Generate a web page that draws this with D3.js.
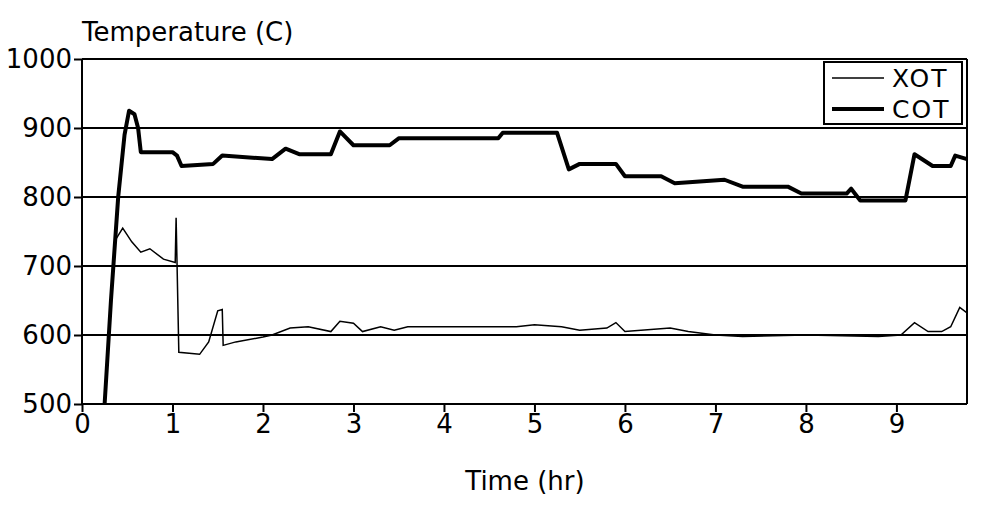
<!DOCTYPE html>
<html><head><meta charset="utf-8">
<script src="https://cdn.jsdelivr.net/npm/d3@7"></script>
<style>body{margin:0;background:#fff}text{font-family:"DejaVu Sans",sans-serif;fill:#000}</style>
</head><body><div id="chart"></div>
<script>
// COT (thick) readings: hours, temperature
var cotHr = [0.25,0.32,0.4,0.47,0.52,0.58,0.62,0.65,1.0,1.05,1.1,1.45,1.55,2.1,2.25,2.4,2.75,2.85,3.0,3.4,3.5,4.6,4.65,5.25,5.38,5.5,5.9,6.0,6.4,6.55,7.1,7.3,7.8,7.95,8.45,8.5,8.6,9.1,9.2,9.4,9.6,9.65,9.78];
var cotT  = [500,650,800,890,925,920,900,865,865,860,845,848,860,855,870,862,862,895,875,875,885,885,893,893,840,848,848,830,830,820,825,815,815,805,805,812,795,795,862,845,845,860,855];
// XOT (thin) readings
var xotHr = [0.38,0.45,0.55,0.65,0.75,0.9,1.03,1.04,1.07,1.3,1.4,1.5,1.55,1.56,1.7,2.0,2.1,2.3,2.5,2.75,2.85,3.0,3.1,3.3,3.45,3.6,4.8,5.0,5.3,5.5,5.8,5.9,6.0,6.5,6.7,7.0,7.3,8.0,8.8,9.05,9.2,9.35,9.5,9.6,9.7,9.78,9.78];
var xotT  = [740,755,735,720,725,710,705,770,575,572,590,635,637,585,590,597,600,610,612,605,620,617,605,612,607,612,612,615,612,607,610,618,605,610,605,600,598,600,598,600,618,605,605,612,640,632,500];
var yTicks = [500,600,700,800,900,1000];
var xTicks = [0,1,2,3,4,5,6,7,8,9];

var W = 989, H = 516, L = 82, R = 967, T = 59, B = 404;
var svg = d3.select("#chart").append("svg").attr("width", W).attr("height", H);
var x = d3.scaleLinear().domain([0, 9.78]).range([L, R]);
var y = d3.scaleLinear().domain([500, 1000]).range([B, T]);

// gridlines
svg.selectAll("line.grid").data(yTicks).enter().append("line")
  .attr("x1", L).attr("x2", R).attr("y1", d => y(d)).attr("y2", d => y(d))
  .attr("stroke", "#000").attr("stroke-width", 2);
svg.append("line").attr("x1", R).attr("x2", R).attr("y1", T).attr("y2", B).attr("stroke", "#000").attr("stroke-width", 2);

var xa = svg.append("g").attr("transform", "translate(0," + B + ")")
  .call(d3.axisBottom(x).tickValues(xTicks).tickSize(8).tickPadding(3));
var ya = svg.append("g").attr("transform", "translate(" + L + ",0)")
  .call(d3.axisLeft(y).tickValues(yTicks).tickFormat(d3.format("d")).tickSize(8).tickPadding(2));
[xa, ya].forEach(function(a) {
  a.selectAll("path,line").attr("stroke", "#000").attr("stroke-width", 2);
  a.select(".domain").attr("d", a === xa ? "M" + L + ",0H" + R : "M0," + T + "V" + B);
  a.selectAll("text").attr("font-size", 26).attr("font-family", "DejaVu Sans");
});

var line = d3.line().x(d => x(d[0])).y(d => y(d[1]));
svg.append("path").datum(d3.zip(xotHr, xotT)).attr("d", line)
  .attr("fill", "none").attr("stroke", "#000").attr("stroke-width", 1.5);
svg.append("path").datum(d3.zip(cotHr, cotT)).attr("d", line)
  .attr("fill", "none").attr("stroke", "#000").attr("stroke-width", 4).attr("stroke-linejoin", "round");

svg.append("text").attr("x", 82).attr("y", 41).attr("font-size", 26).text("Temperature (C)");
svg.append("text").attr("x", 525).attr("y", 490).attr("text-anchor", "middle").attr("font-size", 26).text("Time (hr)");

// legend
var lg = svg.append("g");
lg.append("rect").attr("x", 824).attr("y", 62).attr("width", 138).attr("height", 62)
  .attr("fill", "#fff").attr("stroke", "#000").attr("stroke-width", 2);
[["XOT", 1.5], ["COT", 4]].forEach(function(d, i) {
  var yy = 78 + i * 31;
  lg.append("line").attr("x1", 832).attr("x2", 884).attr("y1", yy).attr("y2", yy)
    .attr("stroke", "#000").attr("stroke-width", d[1]);
  lg.append("text").attr("x", 892).attr("y", yy + 9).attr("font-size", 25).attr("letter-spacing", 2).text(d[0]);
});
</script></body></html>
